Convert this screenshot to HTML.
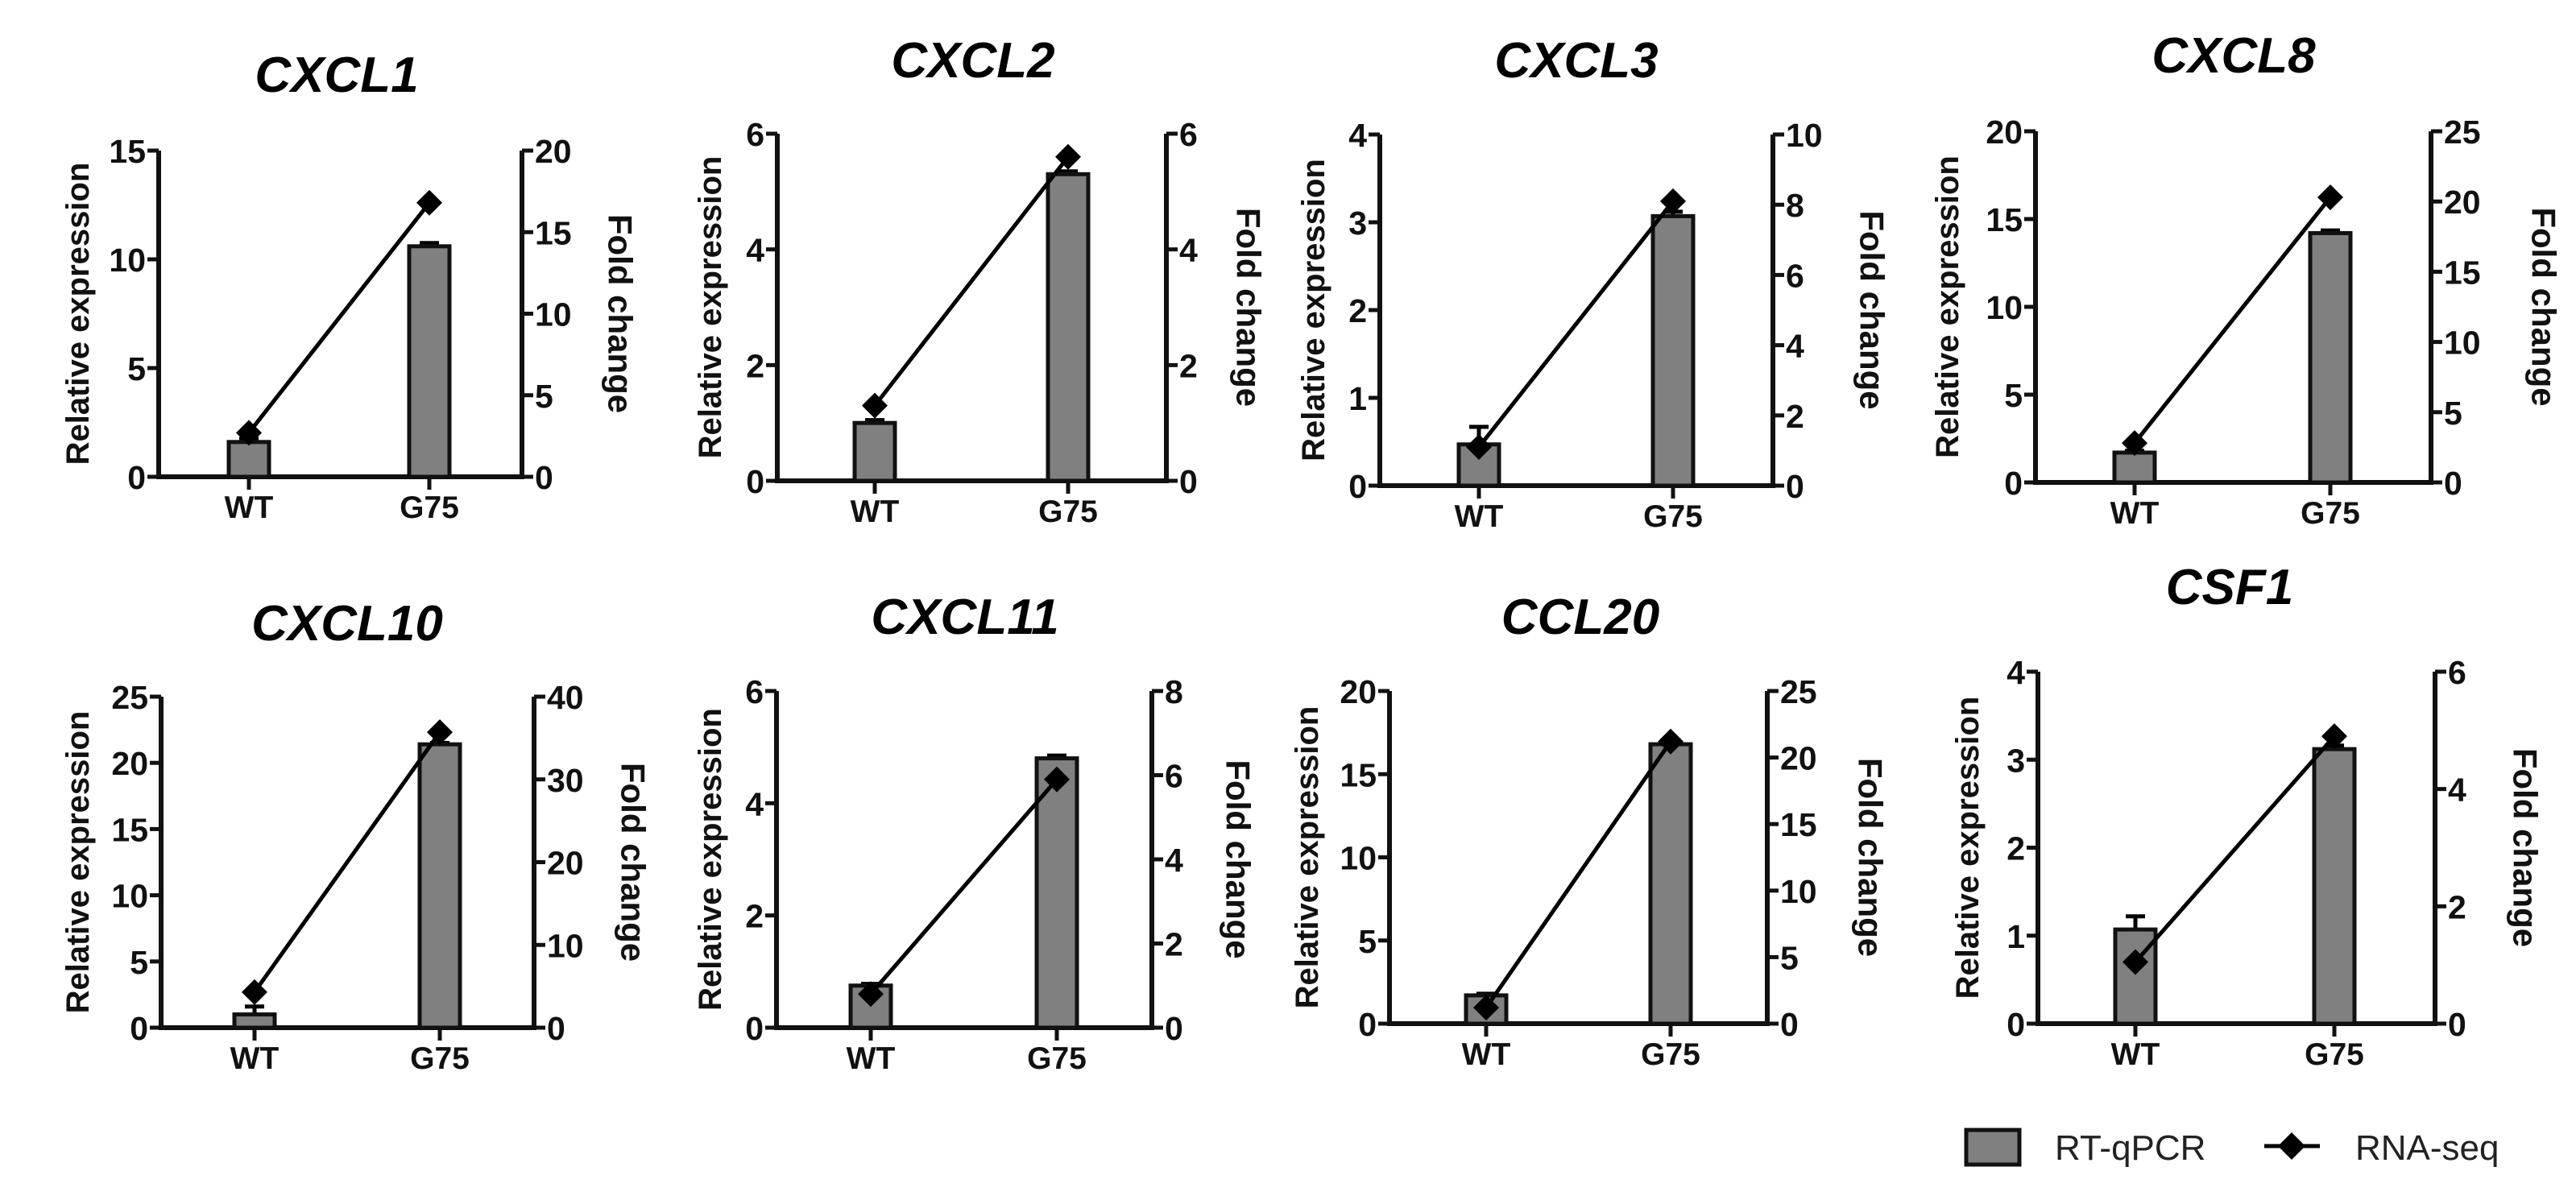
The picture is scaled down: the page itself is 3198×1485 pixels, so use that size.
<!DOCTYPE html>
<html><head><meta charset="utf-8"><style>
html,body{margin:0;padding:0;background:#fff;}
svg{display:block;font-family:"Liberation Sans",Arial,sans-serif;}
</style></head><body>
<svg id="fig" width="3198" height="1485" viewBox="0 0 3198 1485"></svg>
<script>
const genes=["CXCL1","CXCL2","CXCL3","CXCL8","CXCL10","CXCL11","CCL20","CSF1"];
const categories=["WT","G75"];
const qpcrWT=[1.6,1.0,0.47,1.7,1.0,0.75,1.7,1.07];
const qpcrG75=[10.6,5.3,3.07,14.2,21.4,4.8,16.8,3.12];
const errWT=[0.15,0.05,0.2,0.1,0.6,0.03,0.1,0.15];
const errG75=[0.15,0.05,0.05,0.15,0.1,0.05,0.1,0.04];
const rnaWT=[2.7,1.3,1.1,2.8,4.3,0.8,1.2,1.05];
const rnaG75=[16.8,5.6,8.1,20.3,35.7,5.9,21.2,4.9];
const leftMax=[15,6,4,20,25,6,20,4];
const leftStep=[5,2,1,5,5,2,5,1];
const rightMax=[20,6,10,25,40,8,25,6];
const rightStep=[5,2,2,5,10,2,5,2];
// layout (pixel geometry, not data): L,R,top,y0,xWT,xG75,titleX,titleY,yTitleX,foldX
const layout=[
[197,648,187,592,309,533,418,114,97,770],
[965,1448,166,597,1086,1326,1208,96,882,1550],
[1713,2201,167,603,1836,2077,1957,96,1631,2324],
[2527,3018,163,599,2650,2893,2773,90,2418,3158],
[200,663,865,1276,316,546,431,795,97,786],
[964,1430,858,1276,1081,1312,1198,787,882,1537],
[1725,2194,858,1271,1845,2074,1962,787,1623,2322],
[2530,3023,834,1271,2651,2898,2768,750,2443,3135]];
const NS="http://www.w3.org/2000/svg";
const svg=document.getElementById("fig");
function mk(tag,attrs,parent){const e=document.createElementNS(NS,tag);for(const k in attrs)e.setAttribute(k,attrs[k]);(parent||svg).appendChild(e);return e;}
function txt(s,attrs,parent){const e=mk("text",attrs,parent);e.textContent=s;return e;}
function diamond(cx,cy,r,parent){return mk("polygon",{points:`${cx},${cy-r} ${cx+r},${cy} ${cx},${cy+r} ${cx-r},${cy}`,fill:"#000"},parent);}
for(let i=0;i<genes.length;i++){
  const [L,R,T,Y0,xw,xg,tx,ty,ytx,fx]=layout[i];
  const g=mk("g",{});
  
  
  const yL=v=>Y0-(v/leftMax[i])*(Y0-T);
  const yR=v=>Y0-(v/rightMax[i])*(Y0-T);
  const t=txt(genes[i],{x:tx,y:ty,"text-anchor":"middle","font-size":62,"font-weight":"bold","font-style":"italic"},g);
  
  
  const ax=mk("path",{d:`M${L},${T} V${Y0} H${R} V${T}`,fill:"none",stroke:"#111","stroke-width":6},g);
  
  
  for(let v=0;v<=leftMax[i]+1e-9;v+=leftStep[i]){
    const y=yL(v);
    mk("line",{x1:L-14,x2:L,y1:y,y2:y,stroke:"#111","stroke-width":5},g);
    const lb=txt(String(v),{x:L-16,y:y+15,"text-anchor":"end","font-size":41,"font-weight":"bold","fill":"#111"},g);
    
    
  }
  for(let v=0;v<=rightMax[i]+1e-9;v+=rightStep[i]){
    const y=yR(v);
    mk("line",{x1:R,x2:R+14,y1:y,y2:y,stroke:"#111","stroke-width":5},g);
    const lb=txt(String(v),{x:R+16,y:y+15,"text-anchor":"start","font-size":41,"font-weight":"bold","fill":"#111"},g);
    
    
  }
  const xs=[xw,xg];
  const bars=[qpcrWT[i],qpcrG75[i]], errs=[errWT[i],errG75[i]], rna=[rnaWT[i],rnaG75[i]];
  for(let k=0;k<2;k++){
    mk("line",{x1:xs[k],x2:xs[k],y1:Y0,y2:Y0+16,stroke:"#111","stroke-width":5},g);
    const cl=txt(categories[k],{x:xs[k],y:Y0+51,"text-anchor":"middle","font-size":39,"font-weight":"bold","fill":"#111"},g);
    
    
    const yt=yL(bars[k]+errs[k]);
    mk("path",{d:`M${xs[k]},${yL(bars[k])} V${yt} M${xs[k]-12},${yt} H${xs[k]+12}`,stroke:"#000","stroke-width":5,fill:"none"},g);
    const b=mk("rect",{x:xs[k]-25,y:yL(bars[k]),width:50,height:Y0-yL(bars[k]),fill:"#808080",stroke:"#111","stroke-width":5},g);
    
    
  }
  const ln=mk("line",{x1:xw,y1:yR(rna[0]),x2:xg,y2:yR(rna[1]),stroke:"#000","stroke-width":5},g);
  
  
  for(let k=0;k<2;k++){
    const d=diamond(xs[k],yR(rna[k]),16,g);
    
    
  }
  const yc=(T+Y0)/2;
  const yt=txt("Relative expression",{x:ytx,y:yc,"text-anchor":"middle","dominant-baseline":"central","font-size":40,"font-weight":"bold","fill":"#111",transform:`rotate(-90 ${ytx} ${yc})`},g);
  
  
  const ft=txt("Fold change",{x:fx,y:yc,"text-anchor":"middle","dominant-baseline":"central","font-size":42,"font-weight":"bold","fill":"#111",transform:`rotate(90 ${fx} ${yc})`},g);
  
  
}
const lg=mk("g",{});


const lb=mk("rect",{x:2441,y:1403,width:66,height:43,fill:"#808080",stroke:"#111","stroke-width":5},lg);


const l1=txt("RT-qPCR",{x:2551,y:1440,"font-size":44,"fill":"#222"},lg);


mk("line",{x1:2811,x2:2880,y1:1423,y2:1423,stroke:"#000","stroke-width":5},lg);
const ld=diamond(2845,1423,17,lg);


const l2=txt("RNA-seq",{x:2924,y:1440,"font-size":44,"fill":"#222"},lg);


</script>
</body></html>
